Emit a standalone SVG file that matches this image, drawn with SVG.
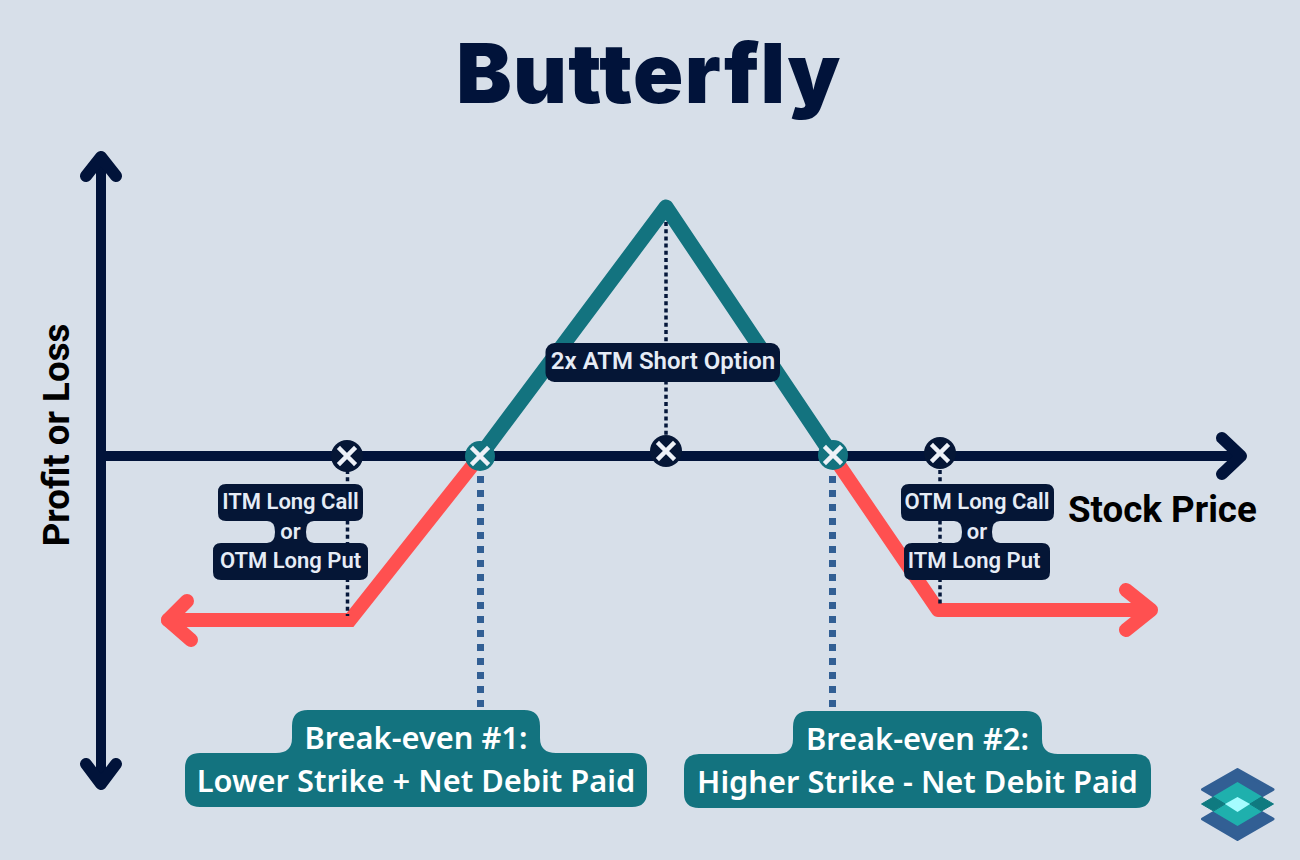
<svg xmlns="http://www.w3.org/2000/svg" width="1300" height="860" viewBox="0 0 1300 860">
<style>
.ax{fill:none;stroke:#01133a;stroke-width:10;stroke-linecap:round;stroke-linejoin:round}
.chev{stroke-width:12}
.teal{fill:none;stroke:#13737f;stroke-width:15;stroke-linejoin:round;stroke-linecap:round}
.red{fill:none;stroke:#ff5050;stroke-width:14;stroke-linejoin:miter;stroke-linecap:round}
.redc{fill:none;stroke:#ff5050;stroke-width:14;stroke-linejoin:round;stroke-linecap:round}
.dot{fill:none;stroke:#05173a;stroke-width:3.5;stroke-dasharray:4 3.2}
.be{fill:none;stroke:#325f94;stroke-width:7;stroke-dasharray:7 7}
.x{fill:none;stroke:#edf1f8;stroke-width:4.5;stroke-linecap:square}
.navy{fill:#051636}
.tl{fill:#13737f}
.lab{font-family:Roboto,"Liberation Sans",sans-serif;font-weight:600;font-size:22px;fill:#e6ecf6;text-anchor:middle}
.atm{font-size:24px}
.beT{font-family:"Noto Sans","Liberation Sans",sans-serif;font-weight:600;font-size:30.800px;fill:#fff;text-anchor:middle}
.axT{font-family:Roboto,"Liberation Sans",sans-serif;font-weight:700;font-size:36.700px;fill:#000}
</style>
<rect width="1300" height="860" fill="#d7dfe9"/>
<text id="title" x="649" y="103" text-anchor="middle" style="font-family:Inter,'Liberation Sans',sans-serif;font-weight:900;font-size:83px;letter-spacing:1.400px;fill:#01133a">Butterfly</text>
<g id="connectors">
<path class="ax" d="M101 158V783M106 456H1240"/>
<path class="ax chev" d="M86 176L101 157L116 176M86 764L101 784L116 764M1222 438L1241 456L1222 474"/>
<path class="be" d="M480.500 476V710M832.500 476V710"/>
<path class="red" d="M168 620H350L480 456"/>
<path class="redc" d="M187 601L168 620L191 640"/>
<path class="redc" d="M833 456L938 610H1151M1126 590L1151 610L1126 630"/>
<path class="teal" d="M480 456L666 207L833 456"/>
<path class="dot" d="M347.500 470V616M666 222V436M940 470V606"/>
</g>
<g id="marker-itm"><circle class="navy" cx="347" cy="456" r="16"/><path class="x" d="M340 449L354 463M354 449L340 463"/></g>
<g id="marker-be1"><circle class="tl" cx="480" cy="456" r="15"/><path class="x" d="M473 449L487 463M487 449L473 463"/></g>
<g id="marker-atm"><circle class="navy" cx="666" cy="451" r="16"/><path class="x" d="M659 444L673 458M673 444L659 458"/></g>
<g id="marker-be2"><circle class="tl" cx="833" cy="455" r="15"/><path class="x" d="M826 448L840 462M840 448L826 462"/></g>
<g id="marker-otm"><circle class="navy" cx="940" cy="453" r="16"/><path class="x" d="M933 446L947 460M947 446L933 460"/></g>
<g id="label-left">
<path class="navy" d="M226 484H355Q363 484 363 492V513Q363 521 355 521H314Q306 521 306 532Q306 543 314 543H360Q368 543 368 551V572Q368 580 360 580H221Q213 580 213 572V551Q213 543 221 543H267Q275 543 275 532Q275 521 267 521H226Q218 521 218 513V492Q218 484 226 484Z"/>
<text class="lab" x="290.500" y="509">ITM Long Call</text>
<text class="lab" x="290.500" y="539">or</text>
<text class="lab" x="290.500" y="568">OTM Long Put</text>
</g>
<g id="label-right">
<path class="navy" d="M909 484H1046Q1054 484 1054 492V513Q1054 521 1046 521H1000Q992 521 992 532Q992 543 1000 543H1042Q1050 543 1050 551V572Q1050 580 1042 580H912Q904 580 904 572V551Q904 543 912 543H954Q962 543 962 532Q962 521 954 521H909Q901 521 901 513V492Q901 484 909 484Z"/>
<text class="lab" x="977" y="509">OTM Long Call</text>
<text class="lab" x="977" y="539">or</text>
<text class="lab" x="974" y="568">ITM Long Put</text>
</g>
<g id="label-atm">
<rect class="navy" x="545.500" y="343" width="234.500" height="39" rx="9"/>
<text class="lab atm" x="663" y="369">2x ATM Short Option</text>
</g>
<g id="breakeven-1">
<path class="tl" d="M308 710H524Q540 710 540 726V738Q540 753 556 753H632Q647 753 647 768V792Q647 807 632 807H200Q185 807 185 792V768Q185 753 200 753H276Q292 753 292 738V726Q292 710 308 710Z"/>
<text class="beT" x="416" y="749">Break-even #1:</text>
<text class="beT" x="416" y="792">Lower Strike + Net Debit Paid</text>
</g>
<g id="breakeven-2">
<path class="tl" d="M809 711H1026Q1042 711 1042 727V739Q1042 754 1058 754H1136Q1151 754 1151 769V793Q1151 808 1136 808H699Q684 808 684 793V769Q684 754 699 754H777Q793 754 793 739V727Q793 711 809 711Z"/>
<text class="beT" x="917.500" y="750">Break-even #2:</text>
<text class="beT" x="917.500" y="793">Higher Strike - Net Debit Paid</text>
</g>
<text id="axis-y" class="axT" transform="translate(69 435) rotate(-90)" text-anchor="middle">Profit or Loss</text>
<text id="axis-x" class="axT" x="1068" y="522">Stock Price</text>
<g id="logo">
<path fill="#325f94" stroke="#325f94" stroke-width="3" stroke-linejoin="round" d="M1237.500 769.500L1273 789.500L1237.500 810L1202.500 789.500Z"/>
<path fill="#325f94" stroke="#325f94" stroke-width="3" stroke-linejoin="round" d="M1237.500 798.500L1273 819L1237.500 839.500L1202.500 819Z"/>
<path fill="#1fb0ad" d="M1237.500 782L1262 796.500L1250 804L1262 811.500L1237.500 826L1213 811.500L1225 804L1213 796.500Z"/>
<path fill="#0f7a80" stroke="#0f7a80" stroke-width="1" stroke-linejoin="round" d="M1201.500 804L1213.500 797L1225 804L1213.500 811ZM1273.500 804L1261.500 797L1250 804L1261.500 811Z"/>
<path fill="#a5fcff" d="M1237.500 797L1250 804L1237.500 812L1225 804Z"/>
</g>
</svg>
